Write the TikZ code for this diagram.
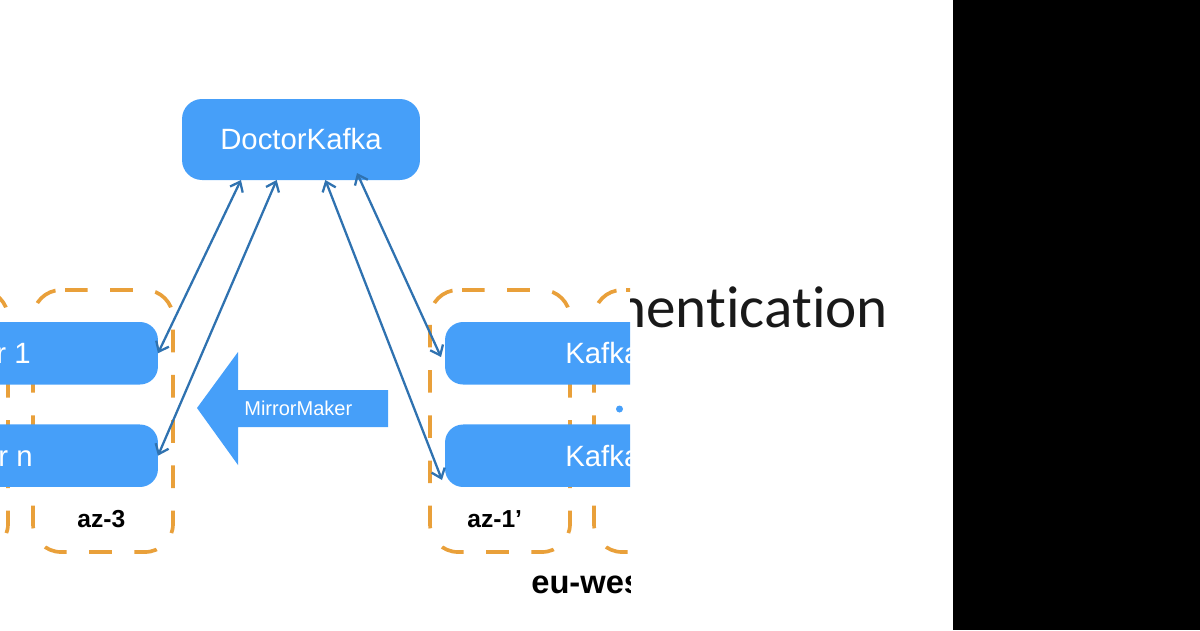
\documentclass[tikz,border=0pt]{standalone}
\usepackage{fontspec}
\setmainfont{Liberation Sans}
\newfontfamily\slidefont[Ligatures=NoCommon]{Carlito}
\usetikzlibrary{positioning,arrows.meta}

\definecolor{boxblue}{HTML}{469FF9}
\definecolor{linkblue}{HTML}{2F72B0}
\definecolor{zoneorange}{HTML}{E9A03A}

\begin{document}
\begin{tikzpicture}[x=0.02cm,y=-0.02cm,
                    >={Straight Barb[length=5pt,width=8pt]}]
  \tikzset{
    zoneline/.style={draw=zoneorange,line width=2.1pt,dash pattern=on 12.87pt off 12.87pt,
                     rounded corners=0.56cm},
    hostbox/.style={fill=boxblue,rounded corners=0.36cm,minimum width=6cm,
                    minimum height=1.25cm,inner sep=0pt,outer sep=0pt},
    hosttext/.style={text=white,font=\fontsize{16.7pt}{18pt}\selectfont,inner sep=0pt},
    zonetext/.style={font=\bfseries\fontsize{14pt}{16pt}\selectfont,inner sep=0pt},
    link/.style={<->,draw=linkblue,line width=1.3pt}
  }
  \useasboundingbox (0,0) rectangle (1200,630);
  \fill[black] (953,0) rectangle (1200,630);

  % slide text behind the cut
  \begin{scope}
    \clip (630,0) rectangle (953,630);
    \node[anchor=base west,inner sep=0pt,text=black!90,
          font=\slidefont\fontsize{33.7pt}{38pt}\selectfont] (slidetext) at (615,327) {hentication};
  \end{scope}

  \begin{scope}
    \clip (0,0) rectangle (630,630);

    \foreach \zonex in {-132,33,430,594}
      \draw[zoneline] (\zonex+32,290) -- (\zonex+140,290) -- (\zonex+140,552)
                      -- (\zonex,552) -- (\zonex,290) -- (\zonex+32,290);

    \node[hostbox]                        (workerone) at (8,353.25)   {};
    \node[hostbox,below=0.8cm of workerone] (workern)                 {};
    \node[hostbox]                        (kafkaone)  at (595,353.25) {};
    \node[hostbox,below=0.8cm of kafkaone]  (kafkan)                  {};

    \node[hosttext,anchor=base east] (workeronetext) at (31,363)  {r 1};
    \node[hosttext,anchor=base east] (workerntext)   at (33,466)  {r n};
    \node[hosttext,anchor=base west] (kafkaonetext)  at (565,363) {Kafka};
    \node[hosttext,anchor=base west] (kafkantext)    at (565,466) {Kafka};

    \node[circle,fill=boxblue,minimum size=0.14cm,inner sep=0pt] (dot) at (619.5,409) {};

    \node[zonetext,anchor=base west] (azthreetext) at (77,527)  {az-3};
    \node[zonetext,anchor=base west] (azonetext)   at (467,527) {az-1’};
    \node[anchor=base west,inner sep=0pt,font=\bfseries\fontsize{18.6pt}{20pt}\selectfont]
          (regiontext) at (531,593) {eu-wes};

    % replication arrow
    \fill[boxblue] (197,408) -- (238,352) -- (238,390) -- (388,390)
                   -- (388,427) -- (238,427) -- (238,465) -- cycle;
    \node[anchor=base west,inner sep=0pt,text=white,
          font=\fontsize{11.4pt}{13pt}\selectfont] (mirrortext) at (244,415) {MirrorMaker};

    \node[fill=boxblue,rounded corners=0.4cm,minimum width=4.76cm,minimum height=1.62cm,
          inner sep=0pt,outer sep=0pt,text=white,
          font=\fontsize{16.7pt}{18pt}\selectfont] (doctor) at (301,139.5) {DoctorKafka};

    \coordinate (doctorport)   at (357,173);
    \coordinate (kafkaoneport) at (441,357);
    \coordinate (kafkanport)   at (442,480);

    \draw[link] (doctor.214)  -- (workerone.east);
    \draw[link] (doctor.239)  -- (workern.east);
    \draw[link] (doctor.301)  -- (kafkanport);
    \draw[link] (doctorport)  -- (kafkaoneport);
  \end{scope}
\end{tikzpicture}
\end{document}
